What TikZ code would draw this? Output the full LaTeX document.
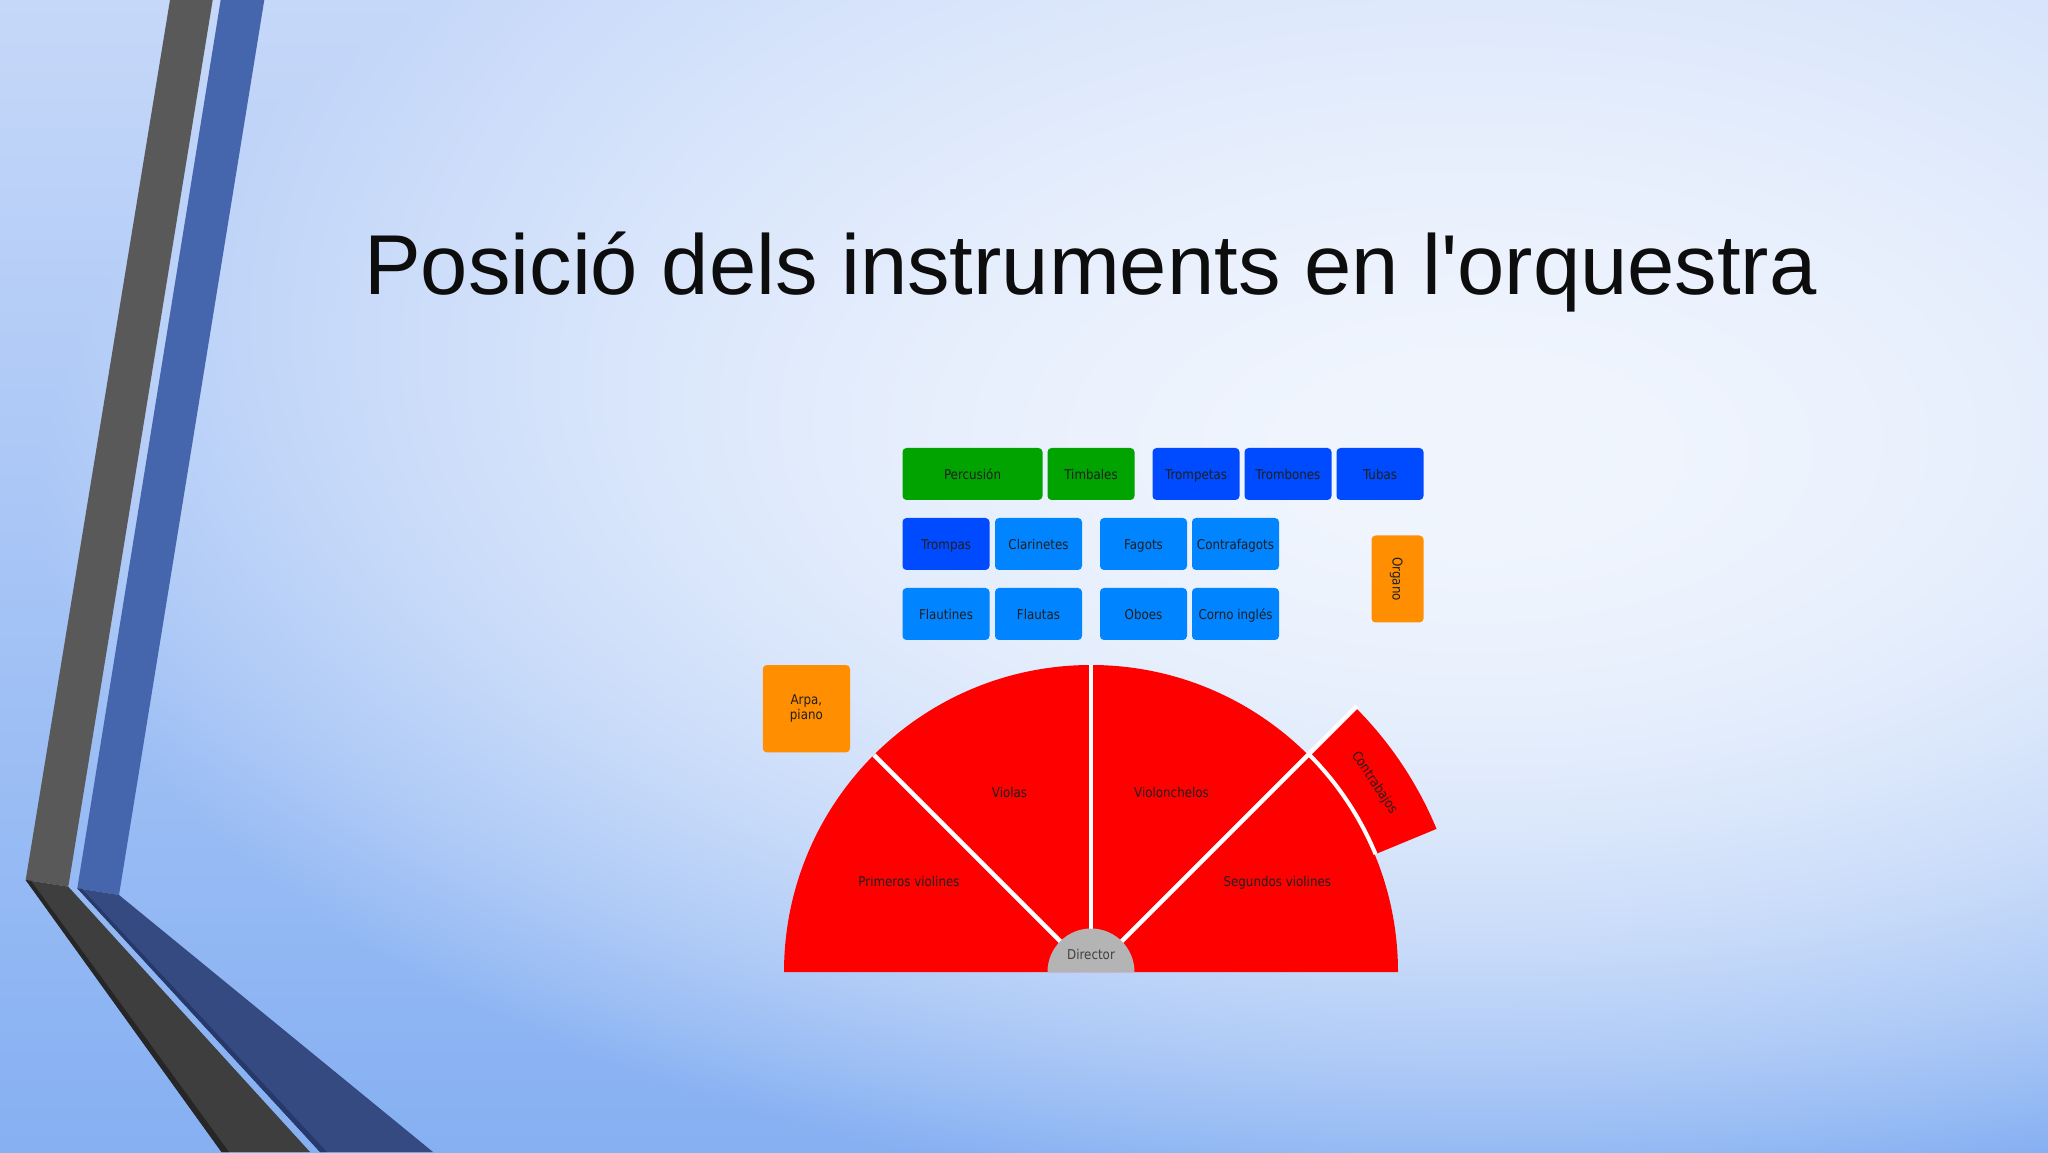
\documentclass[tikz,border=0pt]{standalone}
\usepackage{fontspec}
\setmainfont{Liberation Sans}
\newfontfamily\lbl[FakeStretch=0.88]{DejaVu Sans}
\definecolor{barGray}{HTML}{595959}
\definecolor{barGrayLow}{HTML}{3E3E3E}
\definecolor{barGrayEdge}{HTML}{262626}
\definecolor{barBlue}{HTML}{4565AD}
\definecolor{barBlueLow}{HTML}{344A80}
\definecolor{barBlueEdge}{HTML}{27396A}
\definecolor{boxGreen}{HTML}{00A300}
\definecolor{boxDark}{HTML}{004AFF}
\definecolor{boxLight}{HTML}{0084FF}
\definecolor{boxOrange}{HTML}{FF8F00}
\definecolor{secRed}{HTML}{FF0000}
\definecolor{dirGray}{HTML}{B4B4B4}
\pgfdeclarefunctionalshading{bgfun}{\pgfpointorigin}{\pgfpoint{100bp}{100bp}}{}{
  25 sub 50 div exch 25 sub 50 div
  0.72 sub 0.7 div dup mul
  exch dup 0.57 sub 0.62 div dup mul
  3 -1 roll add 1 exch sub dup abs add 2 div 0.82 mul
  1 index 0.251 mul 0.525 add 1 index 1 exch sub mul 1 index add
  2 index 0.157 mul 0.690 add 2 index 1 exch sub mul 2 index add
  3 index 0.027 mul 0.949 add 3 index 1 exch sub mul 3 index add
  5 -2 roll pop pop
}
\begin{document}
\begin{tikzpicture}[x=1pt,y=1pt,
  lblfont/.style={font=\lbl\fontsize{13.5}{15}\selectfont, text=black!88, inner sep=0pt, align=center},
  lbltext/.style={lblfont, text height=12pt, text depth=2pt},
  box/.style={lblfont, text height=13pt, text depth=2.4pt, rounded corners=4pt, minimum width=87pt, minimum height=52pt},
  greenbox/.style={box, fill=boxGreen},
  darkbox/.style={box, fill=boxDark},
  lightbox/.style={box, fill=boxLight},
  orangebox/.style={lblfont, rounded corners=4pt, fill=boxOrange},
  divider/.style={white, line width=4.5pt}
]
\useasboundingbox (0,0) rectangle (2048,1152);
\shade[shading=bgfun] (0,0) rectangle (2048,1152);

% decorative bars
\fill[barGray] (170,1152) -- (212.7,1152) -- (68.3,265.3) -- (25.7,272) -- cycle;
\fill[barGrayLow] (25.7,272) -- (68.3,265.3) -- (310,0) -- (221.5,0) -- cycle;
\fill[barGrayEdge] (25.7,272) -- (31,271.2) -- (229,0) -- (221.5,0) -- cycle;
\fill[barBlue] (220.7,1152) -- (264.3,1152) -- (119,257) -- (77.3,263.7) -- cycle;
\fill[barBlueLow] (77.3,263.7) -- (119,257) -- (433,0) -- (320,0) -- cycle;
\fill[barBlueEdge] (77.3,263.7) -- (82,263) -- (327,0) -- (320,0) -- cycle;

% title
\node[font=\fontsize{85}{100}\selectfont, text=black!95, anchor=base, inner sep=0pt] (title) at (1090.5,857) {Posició dels instruments en l\textquotesingle orquestra};

% boxes
\node[greenbox, minimum width=140pt] (percusion) at (972.5,678) {Percusión};
\node[greenbox] (timbales) at (1091,678) {Timbales};
\node[darkbox] (trompetas) at (1196,678) {Trompetas};
\node[darkbox] (trombones) at (1288,678) {Trombones};
\node[darkbox] (tubas) at (1380,678) {Tubas};

\node[darkbox] (trompas) at (946,608) {Trompas};
\node[lightbox] (clarinetes) at (1038.5,608) {Clarinetes};
\node[lightbox] (fagots) at (1143.5,608) {Fagots};
\node[lightbox] (contrafagots) at (1235.5,608) {Contrafagots};

\node[lightbox] (flautines) at (946,538) {Flautines};
\node[lightbox] (flautas) at (1038.5,538) {Flautas};
\node[lightbox] (oboes) at (1143.5,538) {Oboes};
\node[lightbox] (corno) at (1235.5,538) {Corno inglés};

\node[orangebox, minimum width=52pt, minimum height=87pt] (organo) at (1397.5,573) {};
\node[lbltext, rotate=-90] (organolbl) at (organo.center) {Organo};
\node[orangebox, minimum width=87.3pt, minimum height=87.3pt] (arpa) at (806.4,443.3) {Arpa,\\piano};

% strings
\coordinate (c) at (1091,180);
\fill[secRed] (784,180) arc[start angle=180, end angle=0, radius=307] -- cycle;
\fill[secRed] ([shift={(22.5:309)}]c) arc[start angle=22.5, end angle=45, radius=309]
   -- ([shift={(45:374)}]c) arc[start angle=45, end angle=22.5, radius=374] -- cycle;
\draw[divider] ([shift={(135:20)}]c) -- ([shift={(135:307)}]c);
\draw[divider] ([shift={(90:20)}]c) -- ([shift={(90:307)}]c);
\draw[divider] ([shift={(45:20)}]c) -- ([shift={(45:376)}]c);
\draw[white, line width=4pt] ([shift={(22.5:308)}]c) arc[start angle=22.5, end angle=45, radius=308];
\fill[dirGray] (1047.5,180) arc[start angle=180, end angle=0, radius=43.5] -- cycle;

\node[lbltext] (violas) at (1009.5,359.3) {Violas};
\node[lbltext] (violonchelos) at (1171.5,359.3) {Violonchelos};
\node[lbltext] (primeros) at (909,270.5) {Primeros violines};
\node[lbltext] (segundos) at (1277.3,270.5) {Segundos violines};
\node[lbltext, rotate=-56.25] (contrabajos) at ([shift={(33.75:342)}]c) {Contrabajos};
\node[lbltext, text=black!75] (director) at (1091,198) {Director};
\end{tikzpicture}
\end{document}
